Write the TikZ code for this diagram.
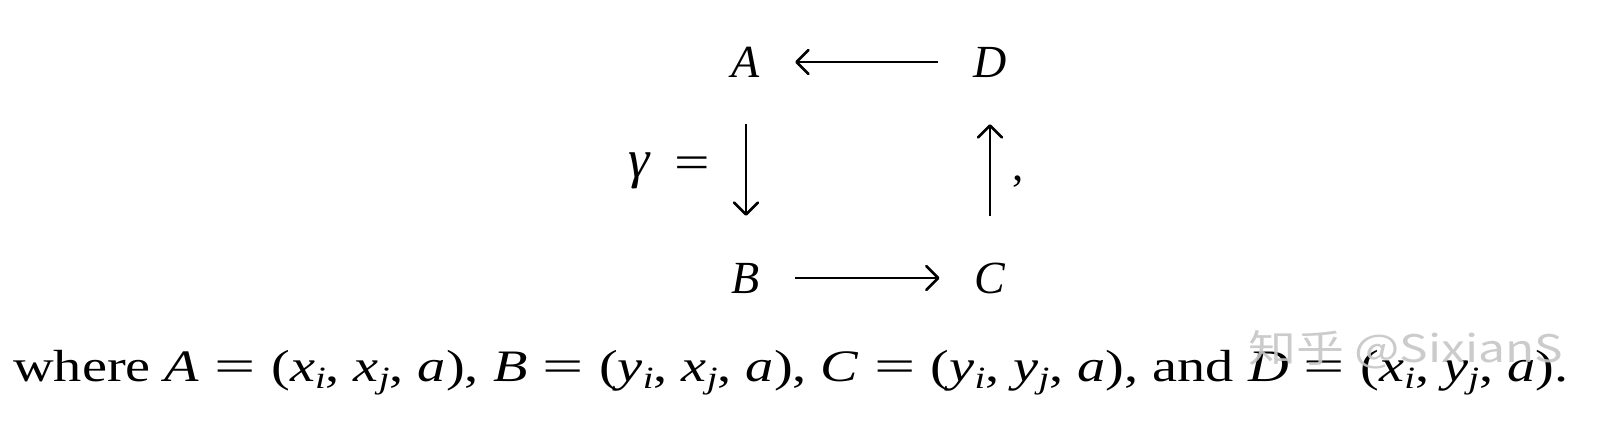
\documentclass[tikz,border=0pt]{standalone}
\usepackage{fontspec}
\setmainfont{Liberation Serif}
\newfontfamily\cjk{Noto Sans CJK SC}
\usepackage{graphicx}
\usetikzlibrary{arrows.meta}
\newcommand\mv[1]{\textit{#1}}
\newcommand\sbs[1]{\raisebox{-0.16em}{\fontsize{31}{31}\selectfont\textit{#1}}}
\newcommand\eqs{\hspace{0.27em}\scalebox{1.3}[1]{=}\hspace{0.27em}}
\begin{document}
\begin{tikzpicture}[x=1pt,y=-1pt,
  obj/.style={font=\fontsize{46}{54}\selectfont\itshape, inner xsep=35pt, inner ysep=47pt, text height=30pt, text depth=0pt, anchor=base},
  arr/.style={line width=2.1pt, -{Straight Barb[length=12pt,width=24pt,line width=2.6pt,round]}},
  lbl/.style={font=\fontsize{45}{54}\selectfont, inner sep=0pt, anchor=base}]
\fill[white] (0,0) rectangle (1605,421);
\useasboundingbox (0,0) rectangle (1605,421);
\node[obj] (A) at (746,77) {A};
\node[obj] (D) at (990,77) {D};
\node[obj] (B) at (746,293) {B};
\node[obj] (C) at (990,293) {C};
\draw[arr] (D.west) -- (A.east);
\draw[arr] (B.east) -- (C.west);
\draw[arr] (A.south) -- (B.north);
\draw[arr] (C.north) -- (D.south);
\node[lbl, font=\fontsize{54}{60}\selectfont] (gam) at (639,177) {\itshape γ};
\node[lbl] (eq) at (692,178) {\scalebox{1.4}[1.05]{=}};
\node[lbl] (comma) at (1018,180) {,};
\node[lbl, anchor=base west] (txt) at (13,381) {\resizebox{1555pt}{\height}{where \mv{A}\eqs(\mv{x}\sbs{i}, \mv{x}\sbs{j}, \mv{a}), \mv{B}\eqs(\mv{y}\sbs{i}, \mv{x}\sbs{j}, \mv{a}), \mv{C}\eqs(\mv{y}\sbs{i}, \mv{y}\sbs{j}, \mv{a}), and \mv{D}\eqs(\mv{x}\sbs{i}, \mv{y}\sbs{j}, \mv{a}).}};
\node[anchor=base west, inner sep=0pt, text=gray!45, opacity=0.9, font=\cjk\fontsize{38}{44}\selectfont] (wm) at (1248,362) {\resizebox{315pt}{\height}{知乎\ @SixianS}};
\end{tikzpicture}
\end{document}
